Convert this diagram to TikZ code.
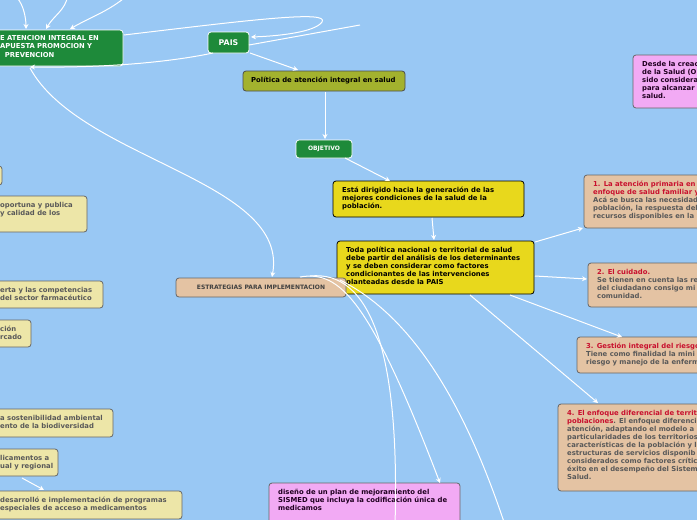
\documentclass[tikz,border=0pt]{standalone}
\usepackage{fontspec}
\setmainfont{DejaVu Sans}
\usetikzlibrary{arrows.meta}
\definecolor{bg}{HTML}{99C8F4}
\definecolor{gr}{HTML}{1E8A3A}
\definecolor{ol}{HTML}{A3B22E}
\definecolor{ye}{HTML}{E8D81C}
\definecolor{tan}{HTML}{E4C3A3}
\definecolor{pk}{HTML}{F2AAF4}
\definecolor{ly}{HTML}{EDE6A8}
\definecolor{rd}{HTML}{C8102E}
\begin{document}
\begin{tikzpicture}[x=1pt,y=-1pt,
 box/.style={rounded corners=3pt,line width=0.8pt,inner sep=0pt},
 txt/.style={anchor=north west,align=left,font=\bfseries\fontsize{6.85}{8}\selectfont,inner sep=0pt},
 con/.style={white,line width=1pt,-{Stealth[length=5pt,width=5pt]}},
 ln/.style={white,line width=1pt}]
\fill[bg] (0,0) rectangle (697,520);
\clip (0,0) rectangle (697,520);
\useasboundingbox (0,0) rectangle (697,520);
% boxes
\draw[box,draw=white,fill=gr] (-20,30) rectangle (123,66);
\node[txt,white,font=\bfseries\fontsize{6.8}{8.4}\selectfont] (g) at (0,35) {E ATENCION INTEGRAL EN\\APUESTA PROMOCION Y\\\ \ PREVENCION};
\draw[box,draw=white,fill=gr] (208,32) rectangle (249,53);
\node[white,font=\bfseries\fontsize{7.8}{9}\selectfont] (pais) at (228.5,42.5) {PAIS};
\draw[box,draw=black!70,fill=ol] (243,71) rectangle (405,91);
\node[txt] (pol) at (251,77) {Política de atención integral en salud};
\draw[box,draw=white,fill=gr] (296,140) rectangle (352,158);
\node[white,font=\bfseries\fontsize{6}{7}\selectfont] (obj) at (324,149) {OBJETIVO};
\draw[box,draw=black,fill=ye] (333,181) rectangle (524,217);
\node[txt] (est) at (342,187) {Está dirigido hacia la generación de las\\mejores condiciones de la salud de la\\población.};
\draw[box,draw=black,fill=ye] (337,241) rectangle (534,294);
\node[txt] (toda) at (346,247) {Toda política nacional o territorial de salud\\debe partir del análisis de los determinantes\\y se deben considerar como factores\\condicionantes de las intervenciones\\planteadas desde la PAIS};
\draw[box,draw=black!60,fill=tan] (176,278) rectangle (346,297);
\node[black!75,font=\bfseries\fontsize{6}{7}\selectfont] (estr) at (261,287.5) {ESTRATEGIAS PARA IMPLEMENTACION};
\draw[box,draw=black!60,fill=pk] (633,55) rectangle (710,108);
\node[txt,black!75!violet] (pk1) at (642,61) {Desde la creac\\de la Salud (O\\sido considera\\para alcanzar\\salud.};
\draw[box,draw=black!60,fill=tan] (584,175) rectangle (710,228);
\node[txt,black!65] (a1) at (593,181) {\textcolor{rd}{1. La atención primaria en}\\\textcolor{rd}{enfoque de salud familiar y}\\Acá se busca las necesidad\\población, la respuesta del\\recursos disponibles en la};
\draw[box,draw=black!60,fill=tan] (588,263) rectangle (710,307);
\node[txt,black!65] (a2) at (597,269) {\textcolor{rd}{2. El cuidado.}\\Se tienen en cuenta las re\\del ciudadano consigo mi\\comunidad.};
\draw[box,draw=black!60,fill=tan] (577,337) rectangle (710,373);
\node[txt,black!65] (a3) at (586,343) {\textcolor{rd}{3. Gestión integral del riesgo}\\Tiene como finalidad la mini\\riesgo y manejo de la enferm};
\draw[box,draw=black!60,fill=tan] (558,404) rectangle (710,491);
\node[txt,black!65] (a4) at (567,410) {\textcolor{rd}{4. El enfoque diferencial de territ}\\\textcolor{rd}{poblaciones}. El enfoque diferenci\\atención, adaptando el modelo a\\particularidades de los territorios\\características de la población y l\\estructuras de servicios disponib\\considerados como factores crítico\\éxito en el desempeño del Sistem\\Salud.};
\draw[box,draw=black!60,fill=pk] (269,483) rectangle (460,530);
\node[txt,black!75!violet] (pk2) at (278,489) {diseño de un plan de mejoramiento del\\SISMED que incluya la codificación única de\\medicamos};
% left yellow boxes
\draw[box,draw=black!60,fill=ly] (-20,166) rectangle (2,185);
\draw[box,draw=black!60,fill=ly] (-20,196) rectangle (87,232);
\node[txt,black!65] (l1) at (0,202) {oportuna y publica\\ y calidad de los};
\draw[box,draw=black!60,fill=ly] (-20,281) rectangle (103,308);
\node[txt,black!65] (l2) at (0,287) {erta y las competencias\\ del sector farmacéutico};
\draw[box,draw=black!60,fill=ly] (-20,320) rectangle (31,347);
\node[txt,black!65] (l3) at (0,326) {ción\\rcado};
\draw[box,draw=black!60,fill=ly] (-20,409) rectangle (113,437);
\node[txt,black!65] (l4) at (0,415) {a sostenibilidad ambiental\\ento de la biodiversidad};
\draw[box,draw=black!60,fill=ly] (-20,449) rectangle (58,476);
\node[txt,black!65] (l5) at (0,455) {licamentos a\\ual y regional};
\draw[box,draw=black!60,fill=ly] (-20,491) rectangle (182,519);
\node[txt,black!65] (l6) at (0,497) {desarrolló e implementación de programas\\especiales de acceso a medicamentos};
% connectors
\draw[con] (5,-5) to[out=20,in=90] (26,29);
\draw[con] (68,-5) to[out=-100,in=60] (46,29);
\draw[con] (128,-5) to[out=-140,in=30] (70,29);
\draw[con] (124,35) .. controls (250,20) and (330,10) .. (322,22) .. controls (315,32) and (280,36) .. (251,37);
\draw[ln] (249,45) -- (360,25);
\draw[con] (213,53) .. controls (180,60) and (120,68) .. (30,67);
\draw[con] (250,53) -- (298,70);
\draw[con] (325,92) -- (325,139);
\draw[con] (345,158) -- (390,181);
\draw[con] (432,218) -- (434,240);
\draw[con] (535,242) -- (583,228);
\draw[con] (535,276) -- (587,279);
\draw[con] (510,295) -- (622,337);
\draw[con] (470,295) -- (598,403);
\draw[con] (30,68) .. controls (80,160) and (290,180) .. (272,277);
\draw[con] (300,277) .. controls (340,270) and (370,300) .. (440,483);
\draw[ln] (310,276) .. controls (370,270) and (400,350) .. (395,525);
\draw[ln] (340,280) .. controls (420,320) and (470,420) .. (505,525);
\draw[con] (22,478) -- (44,490);
\end{tikzpicture}
\end{document}
